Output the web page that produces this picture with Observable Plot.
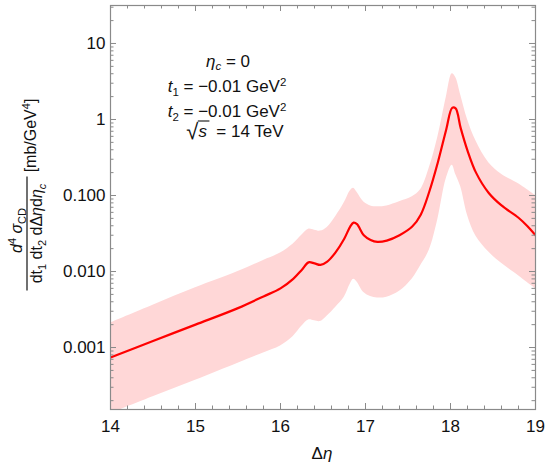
<!DOCTYPE html>
<html><head><meta charset="utf-8">
<script src="https://cdn.jsdelivr.net/npm/d3@7"></script>
<script src="https://cdn.jsdelivr.net/npm/@observablehq/plot@0.6"></script>
<style>body{margin:0;background:#fff}</style>
</head><body><div id="chart"></div>
<script>
const eta = [14, 14.5, 15, 15.5, 15.8, 16.0, 16.15, 16.25, 16.33, 16.4, 16.47, 16.55, 16.65, 16.75, 16.82, 16.86, 16.9, 16.98, 17.06, 17.14, 17.25, 17.4, 17.55, 17.65, 17.75, 17.85, 17.95, 18.02, 18.06, 18.12, 18.2, 18.3, 18.45, 18.6, 18.8, 18.9, 19.0];
const central = [7.4e-4, 1.22e-3, 2.0e-3, 3.3e-3, 4.7e-3, 6.0e-3, 8.0e-3, 1.05e-2, 1.32e-2, 1.28e-2, 1.22e-2, 1.35e-2, 1.8e-2, 2.7e-2, 3.9e-2, 4.4e-2, 4.2e-2, 3.0e-2, 2.6e-2, 2.45e-2, 2.55e-2, 3.0e-2, 3.9e-2, 5.6e-2, 1.12e-1, 2.7e-1, 7.4e-1, 1.42, 1.40, 7.7e-1, 3.9e-1, 2.0e-1, 1.08e-1, 7.4e-2, 5.1e-2, 4.0e-2, 3.0e-2];
const upper = [2.1e-3, 3.6e-3, 6.1e-3, 1.0e-2, 1.4e-2, 1.75e-2, 2.3e-2, 3.0e-2, 3.6e-2, 3.5e-2, 3.4e-2, 3.8e-2, 5.3e-2, 8.0e-2, 1.15e-1, 1.25e-1, 1.1e-1, 8.2e-2, 7.3e-2, 7.1e-2, 7.3e-2, 8.3e-2, 9.6e-2, 1.2e-1, 2.3e-1, 5.8e-1, 1.95, 4.0, 3.6, 2.1, 1.0, 0.52, 0.27, 0.19, 0.143, 0.12, 0.10];
const lower = [1.35e-4, 2.25e-4, 3.7e-4, 6.2e-4, 8.5e-4, 1.05e-3, 1.4e-3, 1.9e-3, 2.3e-3, 2.25e-3, 2.2e-3, 2.6e-3, 3.4e-3, 4.6e-3, 6.8e-3, 7.9e-3, 7.3e-3, 5.3e-3, 4.7e-3, 4.5e-3, 4.6e-3, 5.5e-3, 8.0e-3, 1.2e-2, 1.9e-2, 4.8e-2, 1.66e-1, 2.5e-1, 1.9e-1, 1.3e-1, 5.5e-2, 2.9e-2, 1.8e-2, 1.28e-2, 8.8e-3, 7.2e-3, 5.9e-3];
const xTicks = [14, 15, 16, 17, 18, 19];
const yTicks = [10, 1, 0.1, 0.01, 0.001];
const yTickLabels = ["10", "1", "0.100", "0.010", "0.001"];

const rows = eta.map((e, i) => ({eta: e, mid: central[i], hi: upper[i], lo: lower[i]}));

const W = 550, H = 468, mL = 110, mR = 15, mT = 5, mB = 59;
const fw = W - mL - mR, fh = H - mT - mB;
const yDomain = [1.53e-4, 31.6];
const xMinor = d3.range(14, 19.001, 0.2).filter(v => Math.abs(v - Math.round(v)) > 1e-6);
const yMinor = [];
for (let e = -4; e <= 1; e++) for (let k = 2; k <= 9; k++) { const v = k * Math.pow(10, e); if (v > yDomain[0] && v < yDomain[1]) yMinor.push(v); }
const frameC = "#8a8a8a";
const MJ = 6, MN = 3.5;

const svg = Plot.plot({
  width: W, height: H,
  marginLeft: mL, marginRight: mR, marginTop: mT, marginBottom: mB,
  style: {fontFamily: "'Liberation Sans', Arial, sans-serif", fontSize: "17px", background: "white", color: "#111"},
  x: {domain: [14, 19]},
  y: {type: "log", domain: yDomain},
  marks: [
    Plot.areaY(rows, {x: "eta", y1: "lo", y2: "hi", fill: "#ffd7d7", curve: "catmull-rom", clip: true}),
    Plot.lineY(rows, {x: "eta", y: "mid", stroke: "#ff0000", strokeWidth: 2.2, curve: "catmull-rom", clip: true}),
    Plot.tickX(xTicks, {x: d => d, insetTop: fh - MJ, stroke: frameC}),
    Plot.tickX(xTicks, {x: d => d, insetBottom: fh - MJ, stroke: frameC}),
    Plot.tickX(xMinor, {x: d => d, insetTop: fh - MN, stroke: frameC}),
    Plot.tickX(xMinor, {x: d => d, insetBottom: fh - MN, stroke: frameC}),
    Plot.tickY(yTicks, {y: d => d, insetRight: fw - MJ, stroke: frameC}),
    Plot.tickY(yTicks, {y: d => d, insetLeft: fw - MJ, stroke: frameC}),
    Plot.tickY(yMinor, {y: d => d, insetRight: fw - MN, stroke: frameC}),
    Plot.tickY(yMinor, {y: d => d, insetLeft: fw - MN, stroke: frameC}),
    Plot.frame({stroke: frameC, strokeWidth: 1.2}),
    Plot.axisX({ticks: xTicks, tickSize: 0, tickPadding: 10, tickFormat: d => String(d), label: null}),
    Plot.axisY({ticks: yTicks, tickSize: 0, tickPadding: 5, tickFormat: d => yTickLabels[yTicks.indexOf(d)], label: null})
  ]
});
document.getElementById("chart").appendChild(svg);

const s = d3.select(svg);
const FF = "'Liberation Sans', Arial, sans-serif";
// x label
const xl = s.append("text").attr("x", 322).attr("y", 459).attr("text-anchor", "middle")
  .attr("font-family", FF).attr("font-size", 17).attr("fill", "#111");
xl.append("tspan").text("Δ");
xl.append("tspan").attr("font-style", "italic").text("η");

// y label (rotated fraction)
const g = s.append("g").attr("transform", "translate(27,233.5) rotate(-90)")
  .attr("font-family", FF).attr("fill", "#111");
g.append("line").attr("x1", -57).attr("x2", 57).attr("y1", 0).attr("y2", 0).attr("stroke", "#111").attr("stroke-width", 1.2);
const num = g.append("text").attr("x", 3).attr("y", -5).attr("text-anchor", "middle").attr("font-size", 16);
num.append("tspan").attr("font-style", "italic").text("d");
num.append("tspan").attr("dy", -6).attr("font-size", 11).text("4");
num.append("tspan").attr("dy", 6).text(" ");
num.append("tspan").attr("font-style", "italic").text("σ");
num.append("tspan").attr("dy", 4).attr("font-size", 11).text("CD");
const den = g.append("text").attr("x", 0).attr("y", 15).attr("text-anchor", "middle").attr("font-size", 16);
den.append("tspan").text("dt");
den.append("tspan").attr("dy", 4).attr("font-size", 11).text("1");
den.append("tspan").attr("dy", -4).text(" dt");
den.append("tspan").attr("dy", 4).attr("font-size", 11).text("2");
den.append("tspan").attr("dy", -4).text(" dΔ");
den.append("tspan").attr("font-style", "italic").text("η");
den.append("tspan").text("d");
den.append("tspan").attr("font-style", "italic").text("η");
den.append("tspan").attr("dy", 4).attr("font-size", 11).attr("font-style", "italic").text("c");
const unit = g.append("text").attr("x", 98).attr("y", 9).attr("text-anchor", "middle").attr("font-size", 16);
unit.append("tspan").text("[mb/GeV");
unit.append("tspan").attr("dy", -6).attr("font-size", 11).text("4");
unit.append("tspan").attr("dy", 6).text("]");

// annotation
const ann = s.append("g").attr("font-family", FF).attr("font-size", 17).attr("fill", "#111").attr("text-anchor", "middle");
const a1 = ann.append("text").attr("x", 228).attr("y", 66.5);
a1.append("tspan").attr("font-style", "italic").text("η");
a1.append("tspan").attr("dy", 3).attr("font-size", 11.5).attr("font-style", "italic").text("c");
a1.append("tspan").attr("dy", -3).text(" = 0");
const a2 = ann.append("text").attr("x", 227).attr("y", 91.5);
a2.append("tspan").attr("font-style", "italic").text("t");
a2.append("tspan").attr("dy", 4).attr("font-size", 11.5).text("1");
a2.append("tspan").attr("dy", -4).text(" = −0.01 GeV");
a2.append("tspan").attr("dy", -6).attr("font-size", 11.5).text("2");
const a3 = ann.append("text").attr("x", 227).attr("y", 117);
a3.append("tspan").attr("font-style", "italic").text("t");
a3.append("tspan").attr("dy", 4).attr("font-size", 11.5).text("2");
a3.append("tspan").attr("dy", -4).text(" = −0.01 GeV");
a3.append("tspan").attr("dy", -6).attr("font-size", 11.5).text("2");
const a4 = ann.append("text").attr("x", 235).attr("y", 137);
const rad = a4.append("tspan").attr("font-size", 22).attr("dy", 2).text("√");
const sv = a4.append("tspan").attr("font-style", "italic").attr("dy", -2).text("s");
a4.append("tspan").text("  = 14 TeV");
// radical overbar
try {
  const rb = rad.node().getBBox();
  const sb = sv.node().getBBox();
  ann.append("line").attr("x1", rb.x + rb.width - 1.5).attr("x2", sb.x + sb.width + 2)
    .attr("y1", 121).attr("y2", 121).attr("stroke", "#111").attr("stroke-width", 1.1);
} catch (e) {}
</script>
</body></html>
